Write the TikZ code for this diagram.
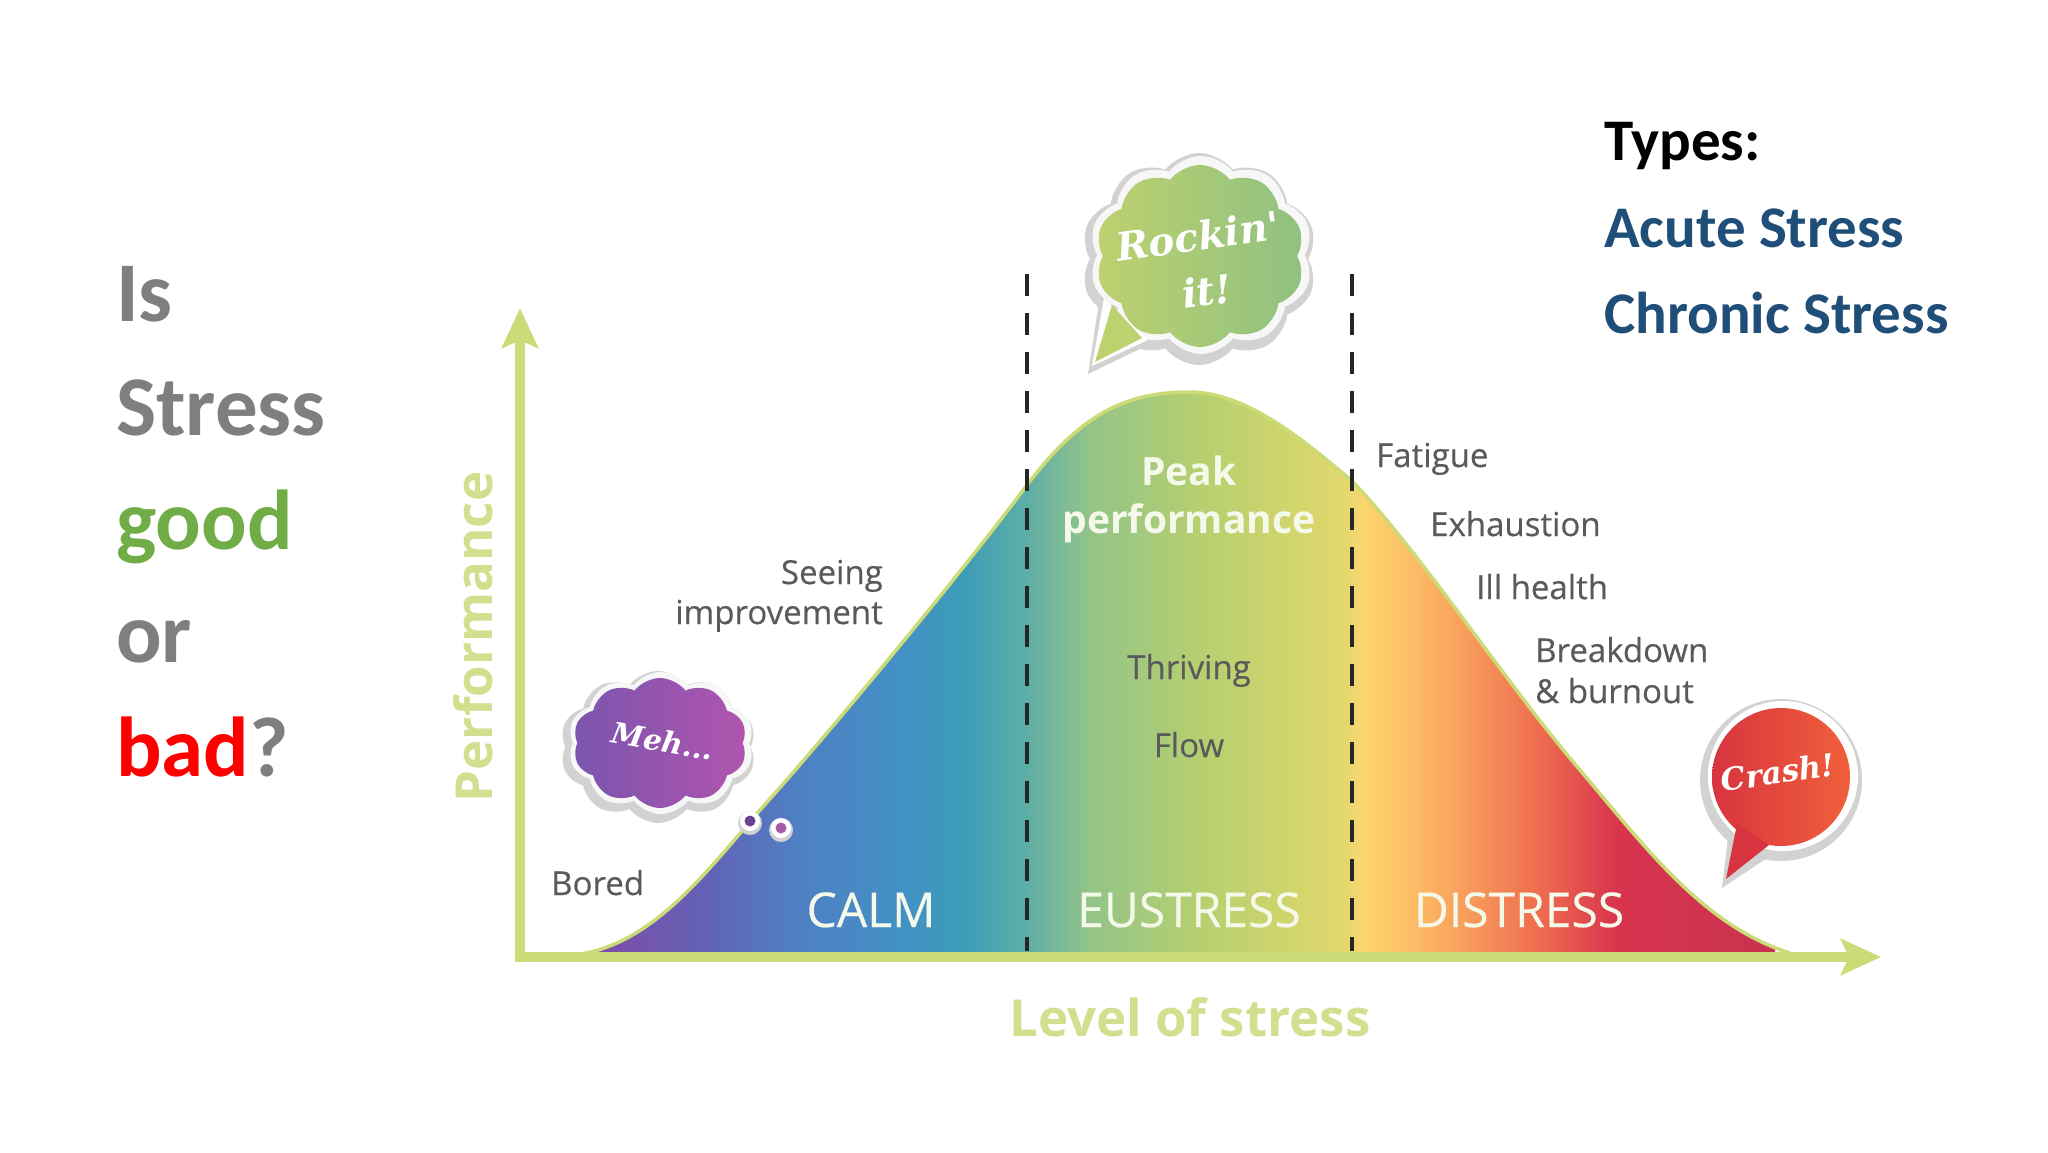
\documentclass[tikz,border=0pt]{standalone}
\usepackage{fontspec}
\setmainfont{Open Sans}
\newfontfamily\slidefont{Carlito}
\newfontfamily\scriptface{DejaVu Serif}
\newfontfamily\chartfont[FakeBold=0.35]{Open Sans}
\usetikzlibrary{arrows.meta,shapes.symbols}
\definecolor{axisgreen}{HTML}{CBDB78}
\definecolor{labelgreen}{HTML}{D3DF8E}
\definecolor{chartgrey}{HTML}{5A5A5A}
\definecolor{slidegrey}{HTML}{7F7F7F}
\definecolor{goodgreen}{HTML}{70AD47}
\definecolor{slideblue}{HTML}{1F4E79}
\definecolor{softwhite}{HTML}{F4F9EA}
\definecolor{shadowgrey}{HTML}{D2D2D2}
\definecolor{gA}{HTML}{7F4CA8}
\definecolor{gB}{HTML}{6460B4}
\definecolor{gC}{HTML}{4F80C4}
\definecolor{gD}{HTML}{4390C6}
\definecolor{gE}{HTML}{3C9CB8}
\definecolor{gF}{HTML}{5FAEA6}
\definecolor{gG}{HTML}{93C488}
\definecolor{gH}{HTML}{B6CF70}
\definecolor{gI}{HTML}{D4D56C}
\definecolor{gJ}{HTML}{E2D86E}
\definecolor{gK}{HTML}{FDD66E}
\definecolor{gL}{HTML}{FAA85E}
\definecolor{gM}{HTML}{EE6E50}
\definecolor{gN}{HTML}{D8344E}
\definecolor{gO}{HTML}{C8334E}
\definecolor{mehL}{HTML}{7A55AE}
\definecolor{mehR}{HTML}{B055AE}
\definecolor{rockL}{HTML}{BDD16F}
\definecolor{rockR}{HTML}{8FC181}
\definecolor{crashL}{HTML}{D8343F}
\definecolor{crashR}{HTML}{F0603A}
\pgfdeclarehorizontalshading{stressgrad}{100bp}{
color(0bp)=(gA);
color(25.6bp)=(gA);
color(29.8bp)=(gB);
color(34bp)=(gC);
color(38.2bp)=(gD);
color(40.8bp)=(gE);
color(43.6bp)=(gF);
color(46.2bp)=(gG);
color(50.8bp)=(gH);
color(55bp)=(gI);
color(56.9bp)=(gJ);
color(57.7bp)=(gK);
color(61.3bp)=(gL);
color(65bp)=(gM);
color(68.4bp)=(gN);
color(74.4bp)=(gO);
color(100bp)=(gO)}
\newcommand{\bellpath}{(575,955) .. controls (650,945) and (700,880) .. (760,810) .. controls (825,738) and (960,575) .. (1027,485) .. controls (1080,415) and (1125,392) .. (1189,392) .. controls (1245,392) and (1300,437) .. (1352,481) .. controls (1420,552) and (1500,675) .. (1574,763) .. controls (1640,840) and (1700,925) .. (1790,953)}
\tikzset{
  slidetext/.style={font=\slidefont\bfseries\fontsize{85}{85}\selectfont,anchor=base west,inner sep=0pt,text=slidegrey},
  typetext/.style={font=\slidefont\bfseries\fontsize{59}{59}\selectfont,anchor=base west,inner sep=0pt,text=slideblue},
  chartnote/.style={font=\chartfont\fontsize{33}{33}\selectfont,inner sep=0pt,text=chartgrey},
  zonelabel/.style={font=\chartfont\fontsize{48}{48}\selectfont,anchor=base,inner sep=0pt,text=softwhite},
  axislabel/.style={font=\bfseries\fontsize{51}{51}\selectfont,inner sep=0pt,text=labelgreen},
  peaklabel/.style={font=\bfseries\fontsize{39}{39}\selectfont,anchor=base,inner sep=0pt,text=softwhite},
  axisline/.style={draw=axisgreen,line width=10pt,-{Stealth[length=40pt,width=36pt,inset=8pt]}},
  zoneline/.style={draw=black!85,line width=4.5pt,dash pattern=on 22pt off 17pt},
  puff/.style={cloud,cloud puffs=10,cloud puff arc=105,cloud ignores aspect,inner sep=0pt},
  bubbletext/.style={text=white,inner sep=0pt},
}
\begin{document}
\begin{tikzpicture}[x=1pt,y=-1pt]
\useasboundingbox (0,0) rectangle (2048,1152);
\fill[white] (0,0) rectangle (2048,1152);

% bell curve
\begin{scope}
\clip \bellpath -- cycle;
\shade[shading=stressgrad] (585,380) rectangle (1775,960);
\end{scope}
\draw[axisgreen,line width=3.5pt] \bellpath;

% axes
\coordinate (origin) at (520,957);
\coordinate (ytip) at (520,308);
\coordinate (xtip) at (1881,957);
\draw[axisline] (515,957) -- (xtip);
\draw[axisline] (520,962) -- (ytip);

% zone separators
\coordinate (z1top) at (1027,274);
\coordinate (z1bot) at (1027,951);
\coordinate (z2top) at (1352,274);
\coordinate (z2bot) at (1352,951);
\draw[zoneline] (z1top) -- (z1bot);
\draw[zoneline] (z2top) -- (z2bot);

% axis labels
\node[axislabel,rotate=90] (perf) at (473,637) {Performance};
\node[axislabel,anchor=base] (level) at (1190,1036) {Level of stress};

% zone labels
\node[zonelabel] (calm) at (871,927) {CALM};
\node[zonelabel] (eu) at (1189,927) {EUSTRESS};
\node[zonelabel] (dis) at (1519,927) {DISTRESS};
\node[peaklabel] (peak1) at (1189,485) {Peak};
\node[peaklabel] (peak2) at (1189,533) {performance};

% notes
\node[chartnote,anchor=base] (thr) at (1189,679) {Thriving};
\node[chartnote,anchor=base] (flow) at (1189,757) {Flow};
\node[chartnote,anchor=base east] (see1) at (883,584) {Seeing};
\node[chartnote,anchor=base east] (see2) at (883,624) {improvement};
\node[chartnote,anchor=base west] (bored) at (551,895) {Bored};
\node[chartnote,anchor=base west] (fat) at (1376,467) {Fatigue};
\node[chartnote,anchor=base west] (exh) at (1430,536) {Exhaustion};
\node[chartnote,anchor=base west] (ill) at (1476,599) {Ill health};
\node[chartnote,anchor=base west] (brk1) at (1535,662) {Breakdown};
\node[chartnote,anchor=base west] (brk2) at (1535,703) {\& burnout};

% Meh cloud
\node[puff,fill=shadowgrey,minimum width=196pt,minimum height=152pt] (mehS) at (658,747) {};
\node[puff,fill=white!97!black,minimum width=186pt,minimum height=142pt] (mehW) at (661,743) {};
\node[puff,left color=mehL,right color=mehR,minimum width=174pt,minimum height=130pt] (meh) at (660,743) {};
\node[bubbletext,rotate=-10,font=\scriptface\bfseries\itshape\fontsize{29}{29}\selectfont] (mehT) at (663,741) {Meh...};
\fill[shadowgrey] (750,823) circle (12pt);
\fill[white] (750,821) circle (10pt);
\fill[gA!85!black] (750,821) circle (5.5pt);
\fill[shadowgrey] (781,830) circle (12pt);
\fill[white] (781,828) circle (10pt);
\fill[mehR!85!gray] (781,828) circle (5.5pt);

% Rockin cloud
\coordinate (rtip) at (1095,362);
\coordinate (rb1) at (1112,305);
\coordinate (rb2) at (1142,338);
\fill[shadowgrey] (1088,374) -- (1100,296) -- (1150,344) -- cycle;
\node[puff,fill=shadowgrey,minimum width=236pt,minimum height=212pt] (rockS) at (1199,259) {};
\node[puff,fill=white!97!black,minimum width=224pt,minimum height=198pt] (rockW) at (1201,255) {};
\fill[white] (1092,366) -- (1104,298) -- (1148,340) -- cycle;
\node[puff,left color=rockL,right color=rockR,minimum width=209pt,minimum height=182pt] (rock) at (1200,256) {};
\fill[rockL] (rtip) -- (rb1) -- (rb2) -- cycle;
\node[bubbletext,rotate=8,font=\scriptface\bfseries\itshape\fontsize{39}{39}\selectfont] (rockT1) at (1198,236) {Rockin'};
\node[bubbletext,rotate=8,font=\scriptface\bfseries\itshape\fontsize{39}{39}\selectfont] (rockT2) at (1207,291) {it!};

% Crash bubble
\coordinate (ctip) at (1726,879);
\coordinate (cb1) at (1737,824);
\coordinate (cb2) at (1769,845);
\fill[shadowgrey] (1722,888) -- (1730,820) -- (1776,852) -- cycle;
\fill[shadowgrey] (1781,780) circle (81pt);
\fill[white] (1783,776) circle (75pt);
\shade[left color=crashL,right color=crashR] (1781,777) circle (69pt);
\fill[crashL] (ctip) -- (cb1) -- (cb2) -- cycle;
\node[bubbletext,rotate=8,font=\scriptface\bfseries\itshape\fontsize{31}{31}\selectfont] (crashT) at (1778,772) {Crash!};

% Slide text left
\node[slidetext] (is) at (116,321) {Is};
\node[slidetext] (stress) at (116,435) {Stress};
\node[slidetext,text=goodgreen] (good) at (116,549) {good};
\node[slidetext] (or) at (116,662) {or};
\node[slidetext] (bad) at (116,776) {\textcolor{red}{bad}?};

% Slide text right
\node[typetext,text=black] (types) at (1604,160) {Types:};
\node[typetext] (acute) at (1604,247) {Acute Stress};
\node[typetext] (chronic) at (1604,333) {Chronic Stress};
\end{tikzpicture}
\end{document}
